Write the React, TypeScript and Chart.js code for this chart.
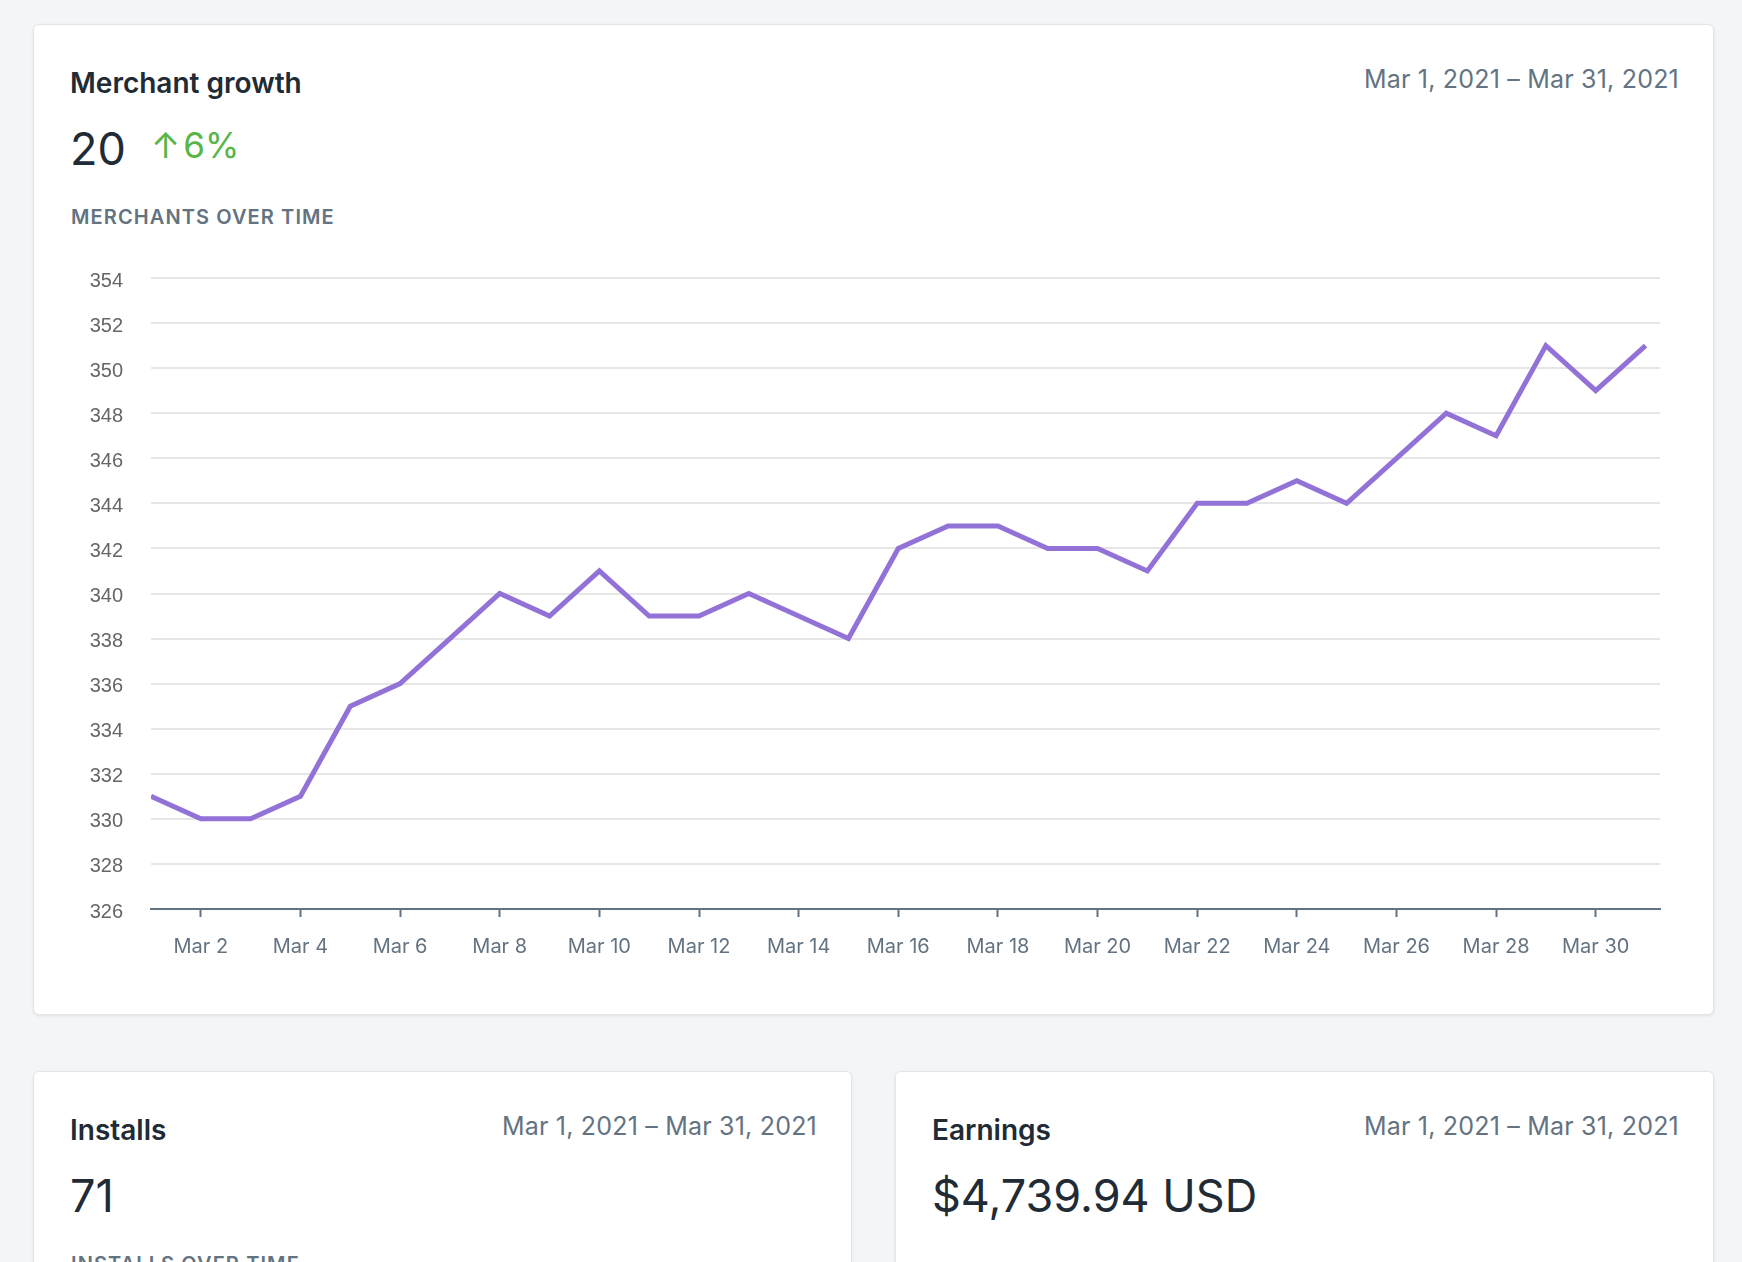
import React, { useEffect, useRef } from "react";
import { Chart, registerables } from "chart.js";

Chart.register(...registerables);

// ---- data ----
const MONTH = "Mar";
const DAYS = [1, 2, 3, 4, 5, 6, 7, 8, 9, 10, 11, 12, 13, 14, 15, 16, 17, 18, 19, 20, 21, 22, 23, 24, 25, 26, 27, 28, 29, 30, 31];
const MERCHANTS = [331, 330, 330, 331, 335, 336, 338, 340, 339, 341, 339, 339, 340, 339, 338, 342, 343, 343, 342, 342, 341, 344, 344, 345, 344, 346, 348, 347, 351, 349, 351];
const X_TICK_DAYS = [2, 4, 6, 8, 10, 12, 14, 16, 18, 20, 22, 24, 26, 28, 30];
const Y_MIN = 326;
const Y_MAX = 354;
const Y_STEP = 2;
const X_MIN = 1;
const X_MAX = 31.29;

const DATE_RANGE = "Mar 1, 2021 – Mar 31, 2021";

// ---- styles ----
const INK = "#212b36";
const INK_LIGHT = "#637381";
const GREEN = "#58b548";
const LINE_COLOR = "#9372d8";
const GRID_COLOR = "#e6e6e6";
const FONT = "Inter, 'Noto Sans', sans-serif";

function Card(props: {
  left: number; top: number; width: number; height: number;
  title: string; value: string; change?: string; subtitle?: string;
  children?: React.ReactNode;
}) {
  const { left, top, width, height, title, value, change, subtitle, children } = props;
  return (
    <div
      style={{
        position: "absolute", left, top, width, height, boxSizing: "border-box",
        background: "#fff", borderRadius: 6, border: "1px solid #e3e6e9",
        boxShadow: "0 1px 3px rgba(63,63,68,0.10)", fontFamily: FONT,
      }}
    >
      <div style={{ position: "absolute", left: 36, top: 44, fontSize: 28, lineHeight: 1, fontWeight: 600, color: INK, whiteSpace: "nowrap" }}>{title}</div>
      <div style={{ position: "absolute", right: 34, top: 41.5, fontSize: 25, lineHeight: 1, fontWeight: 400, letterSpacing: 0.2, color: INK_LIGHT, whiteSpace: "nowrap" }}>{DATE_RANGE}</div>
      <div style={{ position: "absolute", left: 36, top: 101, fontSize: 45, lineHeight: 1, fontWeight: 400, color: INK, whiteSpace: "nowrap" }}>{value}</div>
      {change ? (
        <div style={{ position: "absolute", left: 117, top: 102.5, fontSize: 35, lineHeight: 1, fontWeight: 400, color: GREEN, whiteSpace: "nowrap" }}>
          <span>↑</span><span style={{ marginLeft: 3 }}>{change}</span>
        </div>
      ) : null}
      {subtitle ? (
        <div style={{ position: "absolute", left: 37, top: 181.7, fontSize: 20, lineHeight: 1, fontWeight: 600, letterSpacing: 1.1, color: INK_LIGHT, whiteSpace: "nowrap" }}>{subtitle}</div>
      ) : null}
      {children}
    </div>
  );
}

function MerchantChart() {
  const canvasRef = useRef<HTMLCanvasElement>(null);
  useEffect(() => {
    const canvas = canvasRef.current;
    if (!canvas) return;
    const chart = new Chart(canvas, {
      type: "line",
      data: {
        datasets: [
          {
            data: DAYS.map((d, i) => ({ x: d, y: MERCHANTS[i] })),
            borderColor: LINE_COLOR,
            borderWidth: 5,
            pointRadius: 0,
            pointHoverRadius: 0,
            tension: 0,
            fill: false,
          },
        ],
      },
      options: {
        animation: false,
        responsive: false,
        maintainAspectRatio: false,
        devicePixelRatio: 1,
        layout: { padding: { top: 14.2, right: 53, bottom: 0, left: 0 } },
        plugins: { legend: { display: false }, tooltip: { enabled: false }, title: { display: false } },
        scales: {
          x: {
            type: "linear",
            min: X_MIN,
            max: X_MAX,
            afterBuildTicks: (axis: any) => {
              axis.ticks = X_TICK_DAYS.map((v) => ({ value: v }));
            },
            afterFit: (axis: any) => {
              axis.height = 71;
            },
            grid: { drawOnChartArea: false, drawTicks: true, tickLength: 8, tickWidth: 2, tickColor: INK_LIGHT },
            border: { display: true, color: INK_LIGHT, width: 2 },
            ticks: {
              autoSkip: false,
              maxRotation: 0,
              padding: 18,
              color: INK_LIGHT,
              font: { family: FONT, size: 20 },
              callback: (v: any) => `${MONTH} ${v}`,
            },
          },
          y: {
            min: Y_MIN,
            max: Y_MAX,
            afterFit: (axis: any) => {
              axis.width = 117;
            },
            grid: { color: GRID_COLOR, lineWidth: 2, drawTicks: false },
            border: { display: false },
            ticks: {
              stepSize: Y_STEP,
              padding: 28,
              labelOffset: 3,
              color: "#666",
              font: { family: "'Liberation Sans', Arial, sans-serif", size: 20 },
            },
          },
        },
      },
    });
    return () => chart.destroy();
  }, []);
  return (
    <div style={{ position: "absolute", left: 0, top: 212.6, width: 1679, height: 742.4 }}>
      <canvas ref={canvasRef} width={1679} height={742} style={{ display: "block", width: 1679, height: 742 }} />
    </div>
  );
}

export default function App() {
  useEffect(() => {
    document.body.style.margin = "0";
  }, []);
  return (
    <div style={{ position: "fixed", left: 0, top: 0, width: 1742, height: 1262, overflow: "hidden", background: "#f4f5f7" }}>
      <Card left={33} top={24} width={1681} height={991} title="Merchant growth" value="20" change="6%" subtitle="MERCHANTS OVER TIME">
        <MerchantChart />
      </Card>
      <Card left={33} top={1071} width={819} height={900} title="Installs" value="71" subtitle="INSTALLS OVER TIME" />
      <Card left={895} top={1071} width={819} height={900} title="Earnings" value="$4,739.94 USD" />
    </div>
  );
}
